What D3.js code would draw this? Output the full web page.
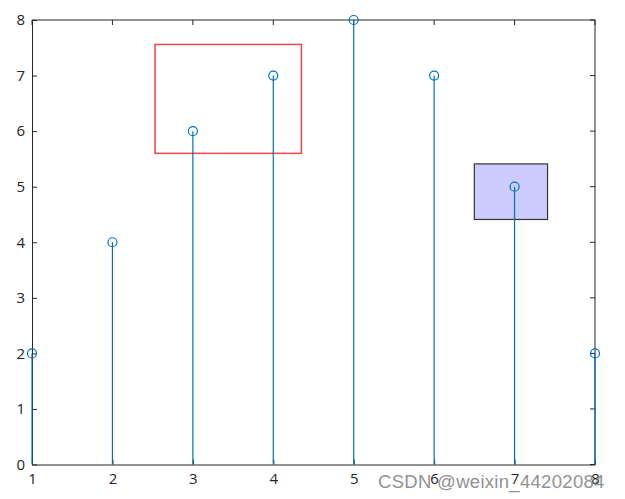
<!DOCTYPE html>
<html>
<head>
<meta charset="utf-8">
<script src="https://cdn.jsdelivr.net/npm/d3@7"></script>
<style>
  html, body { margin: 0; padding: 0; background: #fff; }
  text { font-family: "Segoe UI", "Open Sans", "DejaVu Sans", sans-serif; }
</style>
</head>
<body>
<div id="chart"></div>
<script>
const xValues = [1, 2, 3, 4, 5, 6, 7, 8];
const yValues = [2, 4, 6, 7, 8, 7, 5, 2];
const xTicks = [1, 2, 3, 4, 5, 6, 7, 8];
const yTicks = [0, 1, 2, 3, 4, 5, 6, 7, 8];
// rectangles: [x0, x1, y0, y1]
const redBox = [2.53, 4.35, 5.6, 7.56];
const blueBox = [6.5, 7.41, 4.41, 5.41];

const margins = {top: 20, right: 30, bottom: 35, left: 32, width: 625, height: 499};

const svg = d3.select('#chart')
    .append('svg')
    .attr('width', margins.width)
    .attr('height', margins.height);

const xScale = d3.scaleLinear()
    .domain([1, 8])
    .range([margins.left, margins.width - margins.right]);

const yScale = d3.scaleLinear()
    .domain([0, 8])
    .range([margins.height - margins.bottom + 0.5, margins.top]);

const axisColor = "#262626";

// box lines (top, right)
svg.append("line")
    .attr("x1", xScale(1)).attr("x2", xScale(8))
    .attr("y1", yScale(8)).attr("y2", yScale(8))
    .style("stroke", axisColor);
svg.append("line")
    .attr("x1", xScale(8)).attr("x2", xScale(8))
    .attr("y1", yScale(0)).attr("y2", yScale(8))
    .style("stroke", axisColor);

// top/right inward ticks
svg.append("g").selectAll("line").data(xTicks).enter().append("line")
    .attr("x1", d => xScale(d)).attr("x2", d => xScale(d))
    .attr("y1", yScale(8)).attr("y2", yScale(8) + 5)
    .style("stroke", axisColor);
svg.append("g").selectAll("line").data(yTicks).enter().append("line")
    .attr("x1", xScale(8)).attr("x2", xScale(8) - 5)
    .attr("y1", d => yScale(d)).attr("y2", d => yScale(d))
    .style("stroke", axisColor);

// bottom axis
const xAxis = svg.append("g")
    .attr("transform", "translate(0," + yScale(0) + ")")
    .call(d3.axisBottom(xScale).tickValues(xTicks).tickFormat(d3.format("d"))
        .tickSizeInner(-5).tickSizeOuter(0).tickPadding(9));
xAxis.select(".domain").style("stroke", axisColor);
xAxis.selectAll("line").style("stroke", axisColor);
xAxis.selectAll("text").style("fill", axisColor).style("font-size", "15px");

// left axis
const yAxis = svg.append("g")
    .attr("transform", "translate(" + xScale(1) + ",0)")
    .call(d3.axisLeft(yScale).tickValues(yTicks).tickFormat(d3.format("d"))
        .tickSizeInner(-5).tickSizeOuter(0).tickPadding(7));
yAxis.select(".domain").style("stroke", axisColor);
yAxis.selectAll("line").style("stroke", axisColor);
yAxis.selectAll("text").style("fill", axisColor).style("font-size", "15px");

// red rectangle
svg.append("rect")
    .attr("x", xScale(redBox[0]))
    .attr("y", yScale(redBox[3]))
    .attr("width", xScale(redBox[1]) - xScale(redBox[0]))
    .attr("height", yScale(redBox[2]) - yScale(redBox[3]))
    .style("fill", "none")
    .style("stroke", "#f04545")
    .style("stroke-width", 1.5);

// blue filled rectangle
svg.append("rect")
    .attr("x", xScale(blueBox[0]))
    .attr("y", yScale(blueBox[3]))
    .attr("width", xScale(blueBox[1]) - xScale(blueBox[0]))
    .attr("height", yScale(blueBox[2]) - yScale(blueBox[3]))
    .style("fill", "#ccccff")
    .style("stroke", "#333333")
    .style("stroke-width", 1.2);

// stems
const stems = svg.append("g");
stems.selectAll("line")
    .data(xValues)
    .enter().append("line")
    .attr("x1", d => xScale(d)).attr("x2", d => xScale(d))
    .attr("y1", yScale(0))
    .attr("y2", (d, i) => yScale(yValues[i]))
    .style("stroke", "#0072bd")
    .style("stroke-width", 1.2);

stems.selectAll("circle")
    .data(xValues)
    .enter().append("circle")
    .attr("cx", d => xScale(d))
    .attr("cy", (d, i) => yScale(yValues[i]))
    .attr("r", 4.5)
    .style("fill", "none")
    .style("stroke", "#0072bd")
    .style("stroke-width", 1.2);

// watermark
svg.append("text")
    .attr("x", 378)
    .attr("y", 488)
    .text("CSDN @weixin_44202084")
    .style("font-family", "'Liberation Sans', Arial, sans-serif")
    .style("font-size", "18.5px")
    .style("letter-spacing", "0.3px")
    .style("fill", "#808080")
    .style("opacity", 0.85);
</script>
</body>
</html>
